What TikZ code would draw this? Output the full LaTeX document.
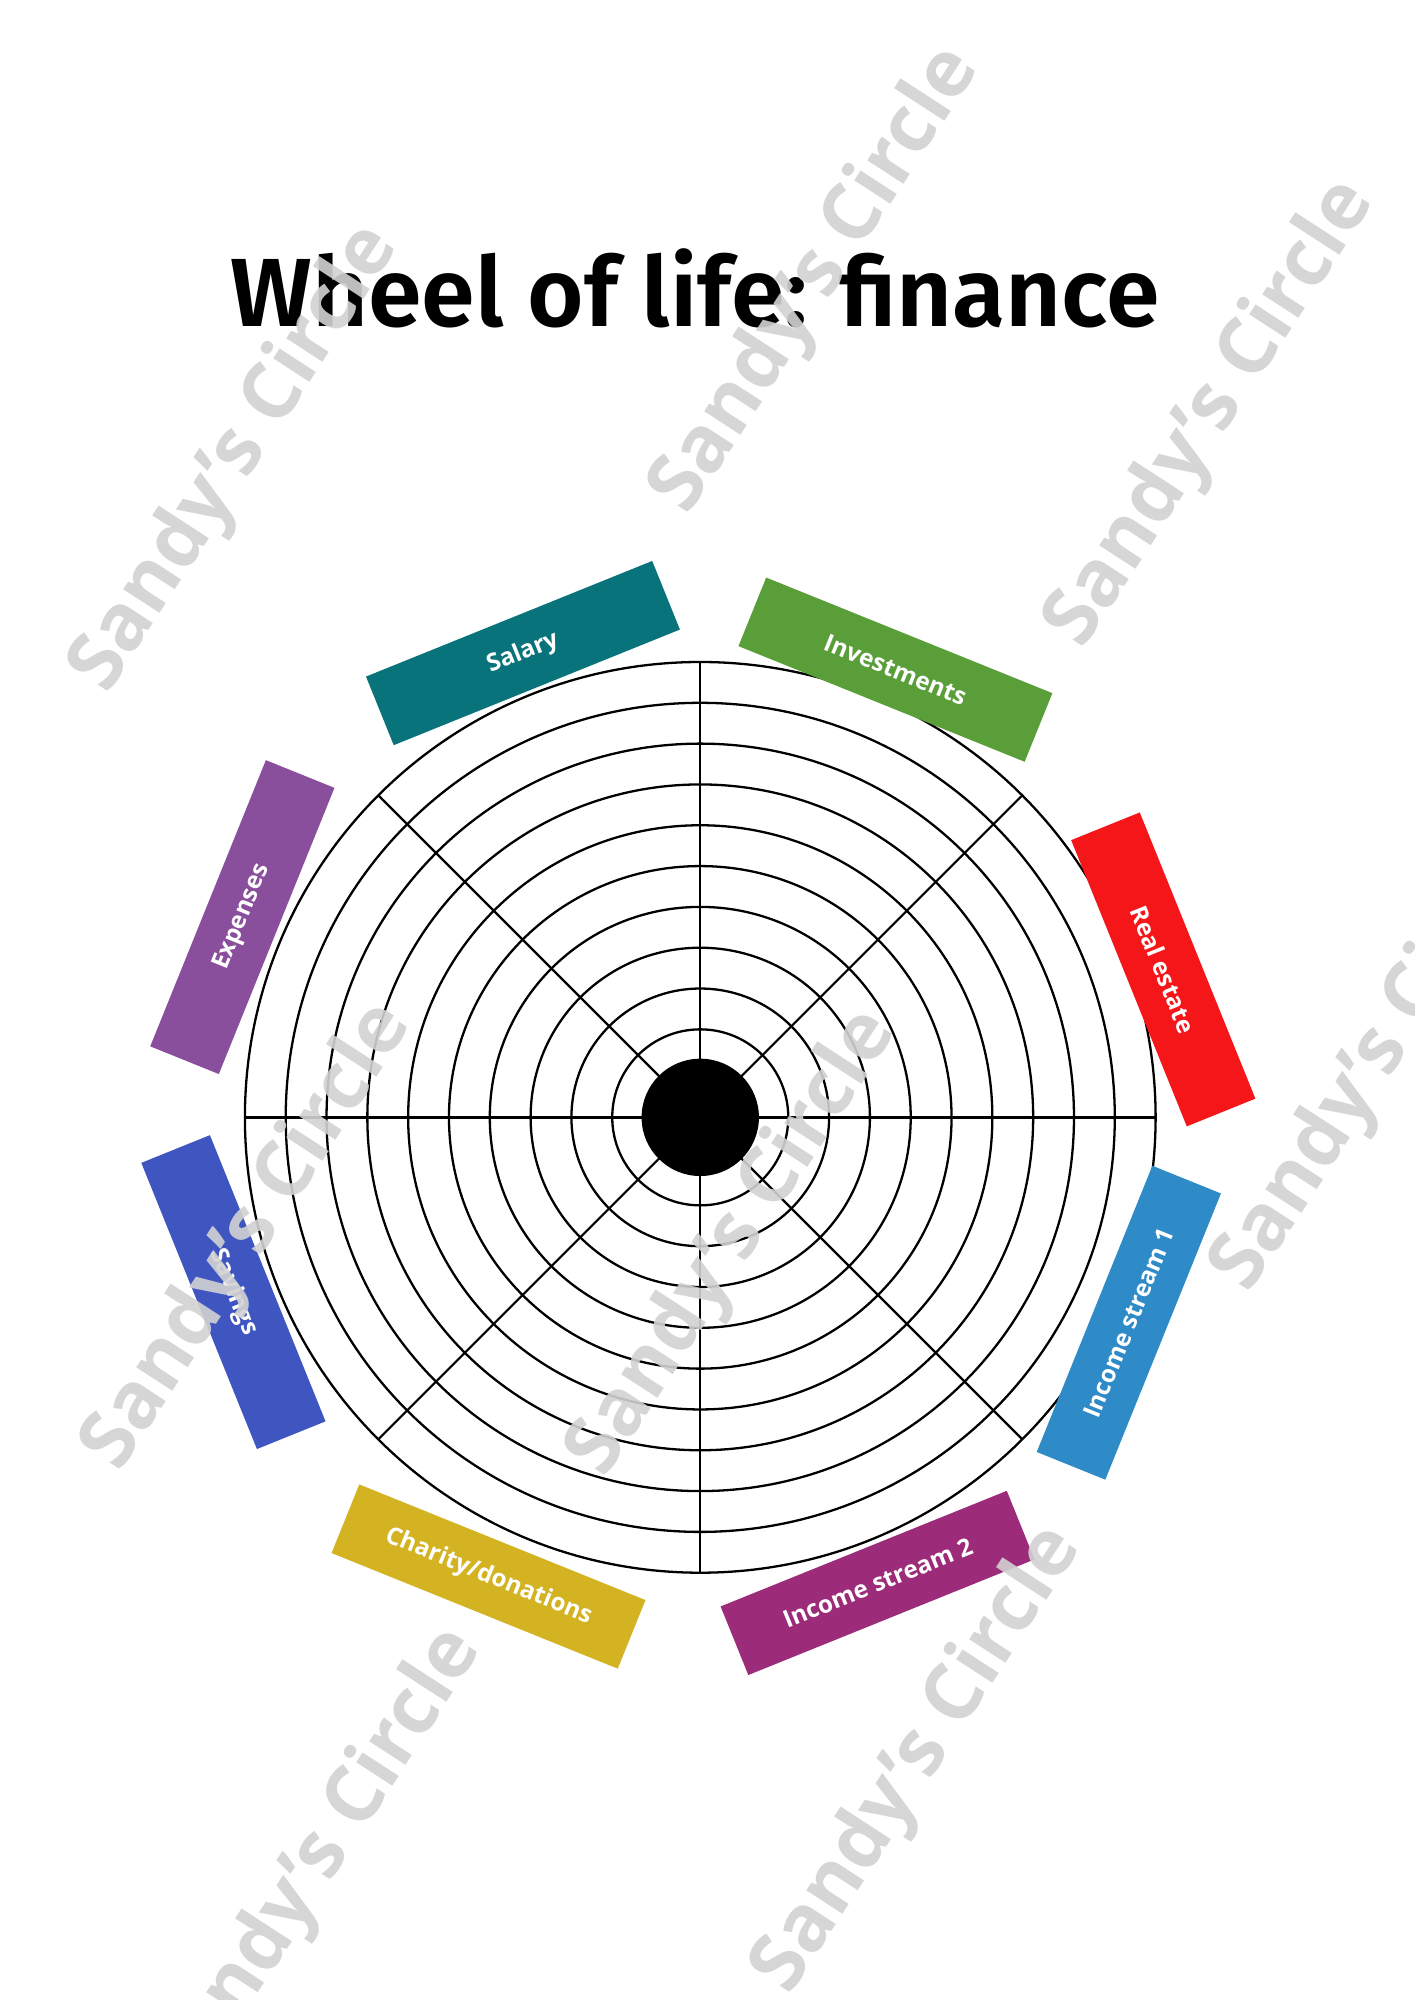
\documentclass[tikz,border=0pt]{standalone}
\usepackage{fontspec}
\setmainfont{Open Sans}
\newfontfamily\titlefont{Fira Sans SemiBold}
\definecolor{cSal}{HTML}{08737A}
\definecolor{cInv}{HTML}{5A9E3A}
\definecolor{cRe}{HTML}{F5161A}
\definecolor{cI1}{HTML}{2E8BC8}
\definecolor{cI2}{HTML}{9C2C7A}
\definecolor{cCh}{HTML}{D4B323}
\definecolor{cSav}{HTML}{3F55C0}
\definecolor{cExp}{HTML}{8A4F9C}
\tikzset{
 lab/.style={minimum width=242pt,minimum height=58pt,inner sep=0pt,text=white,font=\bfseries\fontsize{19}{22}\selectfont},
 wm/.style={text=gray!35,font=\bfseries\fontsize{62}{70}\selectfont,rotate=57,opacity=0.9}
}
\begin{document}
\begin{tikzpicture}[x=1pt,y=-1pt]
\useasboundingbox (0,0) rectangle (1109,1568);
\fill[white] (0,0) rectangle (1109,1568);
\node[font=\titlefont\fontsize{76}{80}\selectfont] (title) at (545,226) {Wheel of life: finance};
\coordinate (c) at (549,876);
\foreach \k in {0,...,9} \draw[line width=1.8pt] (c) circle ({69+\k*32});
\foreach \a in {0,45,...,315} \draw[line width=1.8pt] (c) -- ++(\a:357);
\fill (c) circle (46);
\node[lab,fill=cSal,rotate=22] (sal) at (410,512) {Salary};
\node[lab,fill=cInv,rotate=-22] (inv) at (702,525) {Investments};
\node[lab,fill=cRe,rotate=-68] (re) at (912,760) {Real estate};
\node[lab,fill=cI1,rotate=68] (i1) at (885,1037) {Income stream 1};
\node[lab,fill=cI2,rotate=22] (i2) at (688,1241) {Income stream 2};
\node[lab,fill=cCh,rotate=-22] (ch) at (383,1236) {Charity/donations};
\node[lab,fill=cSav,rotate=-68] (sav) at (183,1013) {Savings};
\node[lab,fill=cExp,rotate=68] (exp) at (190,719) {Expenses};
\node[wm] (w1) at (185,360) {Sandy's Circle};
\node[wm] (w2) at (640,220) {Sandy's Circle};
\node[wm] (w3) at (950,325) {Sandy's Circle};
\node[wm] (w4) at (195,970) {Sandy's Circle};
\node[wm] (w5) at (575,975) {Sandy's Circle};
\node[wm] (w6) at (1080,830) {Sandy's Circle};
\node[wm] (w7) at (250,1460) {Sandy's Circle};
\node[wm] (w8) at (720,1380) {Sandy's Circle};
\end{tikzpicture}
\end{document}
